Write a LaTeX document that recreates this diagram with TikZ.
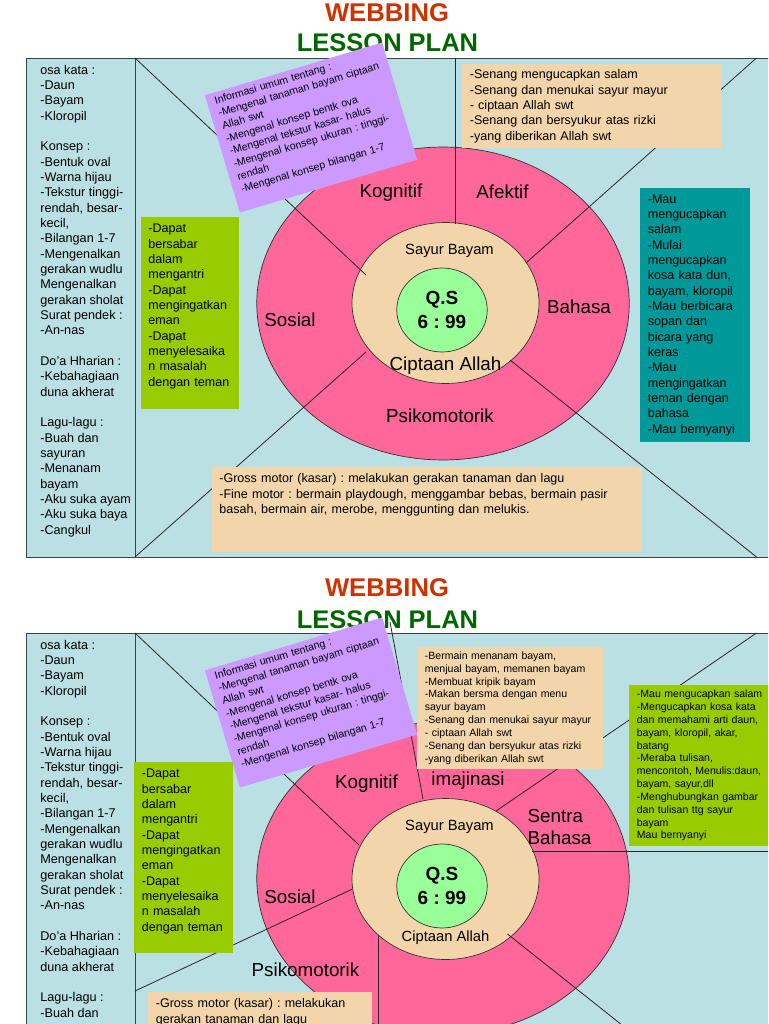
\documentclass[tikz,border=0pt]{standalone}
\usepackage{fontspec}
\setmainfont{Liberation Sans}
\frenchspacing
\usetikzlibrary{shapes.geometric}

\definecolor{panelblue}{HTML}{BBE0E3}
\definecolor{petalpink}{HTML}{FF6699}
\definecolor{peach}{HTML}{F2D5AA}
\definecolor{mint}{HTML}{99FF99}
\definecolor{lime}{HTML}{99CC00}
\definecolor{tealbox}{HTML}{009999}
\definecolor{lilac}{HTML}{CC99FF}
\definecolor{titlered}{HTML}{CC3300}
\definecolor{titlegreen}{HTML}{006600}
\definecolor{edgegray}{HTML}{3A4448}

\begin{document}
\begin{tikzpicture}[
    x=0.02cm, y=-0.02cm,
    panel/.style={draw=edgegray, line width=0.45pt, fill=panelblue},
    spoke/.style={draw=black!85, line width=0.45pt},
    redtitle/.style={font=\fontsize{14.6}{16}\selectfont\bfseries, text=titlered, inner sep=0pt},
    greentitle/.style={font=\fontsize{14.5}{16}\selectfont\bfseries, text=titlegreen, inner sep=0pt},
    outerring/.style={ellipse, draw=black!80, line width=0.4pt, fill=petalpink, inner sep=0pt, minimum width=7.45cm, minimum height=6.26cm},
    innerring/.style={ellipse, draw=black!80, line width=0.4pt, fill=peach, inner sep=0pt, minimum width=3.74cm, minimum height=3.22cm},
    centerring/.style={ellipse, draw=black!80, line width=0.4pt, fill=mint, inner sep=0pt, minimum width=1.81cm, minimum height=1.68cm,
        align=center, font=\fontsize{10.8}{13.7}\selectfont\bfseries},
    biglabel/.style={font=\fontsize{10.7}{12.6}\selectfont, inner sep=0pt, align=left},
    midlabel/.style={font=\fontsize{8.4}{10}\selectfont, inner sep=0pt},
    sidetext/.style={font=\fontsize{7.2}{8.73}\selectfont, inner sep=0pt, anchor=north west, align=left},
    notebox/.style={rectangle, anchor=north west, inner xsep=0.15cm, inner ysep=0pt, align=left, font=\fontsize{7.14}{8.73}\selectfont},
    tinybox/.style={notebox, font=\fontsize{6}{7.3}\selectfont},
    topbox/.style={text height=6pt},
    lilacbox/.style={rectangle, fill=lilac, rotate=16.6, inner xsep=0.16cm, inner ysep=0.06cm, align=left, text width=3.38cm,
        minimum width=3.7cm, font=\fontsize{6}{7.5}\selectfont, text height=5pt, text depth=2.15cm}
]

    \useasboundingbox (0,0) rectangle (768,1024);
    \clip (0,0) rectangle (768,1024);

    % first sheet
    \node[redtitle] (title1) at (387,13) {WEBBING};
    \node[greentitle] (plan1) at (387.5,43) {LESSON PLAN};
    \draw[panel] (26,58) rectangle (790,557);
    \draw[panel] (135,58) -- (135,557);

    \node[outerring] (outer1) at (443,303.5) {};
    \node[innerring] (inner1) at (445.5,303) {};

    \coordinate (tl1) at (135,58);
    \coordinate (tm1) at (455,58);
    \coordinate (tr1) at (756.5,58);
    \coordinate (bl1) at (135,557);
    \coordinate (br1) at (756.5,557);
    \coordinate (endtl1) at (366,275);
    \coordinate (endtm1) at (455,224);
    \coordinate (endtr1) at (526,263);
    \coordinate (endbl1) at (366,352);
    \coordinate (endbr1) at (510,360);

    \path[spoke] (tl1) -- (endtl1);
    \path[spoke] (tm1) -- (endtm1);
    \path[spoke] (tr1) -- (endtr1);
    \path[spoke] (bl1) -- (endbl1);
    \path[spoke] (br1) -- (endbr1);

    \node[centerring] (qs1) at (442,310) {Q.S\\6 : 99};

    \node[biglabel] (kognitif1) at (391,193) {Kognitif};
    \node[biglabel] (afektif1) at (502.5,192) {Afektif};
    \node[biglabel] (bahasa1) at (579,307) {Bahasa};
    \node[biglabel] (sosial1) at (290,320) {Sosial};
    \node[biglabel] (psiko1) at (440,416) {Psikomotorik};
    \node[biglabel] (ciptaan1) at (445.5,365.5) {Ciptaan Allah};
    \node[midlabel] (sayur1) at (449.5,251) {Sayur Bayam};

    \node[sidetext] (kata1) at (40,64.5) {osa kata :\\-Daun\\-Bayam\\-Kloropil\\~\\Konsep :\\-Bentuk oval\\-Warna hijau\\-Tekstur tinggi-\\rendah, besar-\\kecil,\\-Bilangan 1-7\\-Mengenalkan\\gerakan wudlu\\Mengenalkan\\gerakan sholat\\Surat pendek :\\-An-nas\\~\\Do'a Hharian :\\-Kebahagiaan\\duna akherat\\~\\Lagu-lagu :\\-Buah dan\\sayuran\\-Menanam\\bayam\\-Aku suka ayam\\-Aku suka baya\\-Cangkul};

    \node[lilacbox] (info1) at (311,127.5) {Informasi umum tentang :\\-Mengenal tanaman bayam ciptaan\\Allah swt\\-Mengenal konsep bentk ova\\-Mengenal tekstur kasar- halus\\-Mengenal konsep ukuran : tinggi-\\rendah\\-Mengenal konsep bilangan 1-7};

    \node[notebox, fill=peach, text width=4.87cm, minimum height=1.68cm] (afektifbox1) at (462,64) {-Senang mengucapkan salam\\-Senang dan menukai sayur mayur\\- ciptaan Allah swt\\-Senang dan bersyukur atas rizki\\-yang diberikan Allah swt};
    \node[notebox, fill=tealbox, text width=1.9cm, minimum height=5.07cm] (bahasabox1) at (640,188) {-Mau\\mengucapkan\\salam\\-Mulai\\mengucapkan\\kosa kata dun,\\bayam, kloropil\\-Mau berbicara\\sopan dan\\bicara yang\\keras\\-Mau\\mengingatkan\\teman dengan\\bahasa\\-Mau bernyanyi};
    \node[notebox, topbox, fill=lime, inner ysep=0.1cm, text width=1.67cm, text depth=3.43cm] (sosialbox1) at (140.5,217) {-Dapat\\bersabar\\dalam\\mengantri\\-Dapat\\mengingatkan\\eman\\-Dapat\\menyelesaika\\n masalah\\dengan teman};
    \node[notebox, topbox, fill=peach, inner ysep=0.1cm, text width=8.3cm, text depth=1.29cm] (psikobox1) at (211.5,467) {-Gross motor (kasar) : melakukan gerakan tanaman dan lagu\\-Fine motor : bermain playdough, menggambar bebas, bermain pasir\\basah, bermain air, merobe, menggunting dan melukis.};

    % second sheet
    \node[redtitle] (title2) at (387,588) {WEBBING};
    \node[greentitle] (plan2) at (387.5,620) {LESSON PLAN};
    \draw[panel] (26,633) rectangle (790,1060);
    \draw[panel] (135,633) -- (135,1060);

    \node[outerring] (outer2) at (443,878.5) {};
    \node[innerring] (inner2) at (445.5,879) {};

    \coordinate (tl2) at (135,633);
    \coordinate (tm2) at (390,622);
    \coordinate (tr2) at (756.5,633);
    \coordinate (rt2) at (790,851);
    \coordinate (lf2) at (135,991);
    \coordinate (bm2) at (378,1040);
    \coordinate (br2) at (756.5,1132);
    \coordinate (endtl2) at (359,845);
    \coordinate (endtm2) at (423,799);
    \coordinate (endtr2) at (496,811);
    \coordinate (endrt2) at (532,851);
    \coordinate (endlf2) at (352.5,889);
    \coordinate (endbm2) at (378,935);
    \coordinate (endbr2) at (507.5,934);

    \path[spoke] (tl2) -- (endtl2);
    \path[spoke] (tm2) -- (endtm2);
    \path[spoke] (tr2) -- (endtr2);
    \path[spoke] (rt2) -- (endrt2);
    \path[spoke] (lf2) -- (endlf2);
    \path[spoke] (bm2) -- (endbm2);
    \path[spoke] (br2) -- (endbr2);

    \node[centerring] (qs2) at (442,886) {Q.S\\6 : 99};

    \node[biglabel] (kognitif2) at (366.5,784) {Kognitif};
    \node[biglabel] (imajinasi2) at (468,781) {imajinasi};
    \node[biglabel] (sentra2) at (559.5,827) {Sentra\\Bahasa};
    \node[biglabel] (sosial2) at (290,896.5) {Sosial};
    \node[biglabel] (psiko2) at (305.5,970) {Psikomotorik};
    \node[midlabel] (sayur2) at (449.5,827) {Sayur Bayam};
    \node[midlabel] (ciptaan2) at (445.5,937.5) {Ciptaan Allah};

    \node[sidetext] (kata2) at (40,639.5) {osa kata :\\-Daun\\-Bayam\\-Kloropil\\~\\Konsep :\\-Bentuk oval\\-Warna hijau\\-Tekstur tinggi-\\rendah, besar-\\kecil,\\-Bilangan 1-7\\-Mengenalkan\\gerakan wudlu\\Mengenalkan\\gerakan sholat\\Surat pendek :\\-An-nas\\~\\Do'a Hharian :\\-Kebahagiaan\\duna akherat\\~\\Lagu-lagu :\\-Buah dan};

    \node[lilacbox] (info2) at (311,702.5) {Informasi umum tentang :\\-Mengenal tanaman bayam ciptaan\\Allah swt\\-Mengenal konsep bentk ova\\-Mengenal tekstur kasar- halus\\-Mengenal konsep ukuran : tinggi-\\rendah\\-Mengenal konsep bilangan 1-7};

    \node[tinybox, fill=peach, text width=3.41cm, minimum height=2.45cm] (sentrabox2) at (417,646.5) {-Bermain menanam bayam,\\menjual bayam, memanen bayam\\-Membuat kripik bayam\\-Makan bersma dengan menu\\sayur bayam\\-Senang dan menukai sayur mayur\\- ciptaan Allah swt\\-Senang dan bersyukur atas rizki\\-yang diberikan Allah swt};
    \node[tinybox, fill=lime, text width=3.2cm, minimum height=3.21cm] (bahasabox2) at (629,685) {-Mau mengucapkan salam\\-Mengucapkan kosa kata\\dan memahami arti daun,\\bayam, kloropil, akar,\\batang\\-Meraba tulisan,\\mencontoh, Menulis:daun,\\bayam, sayur,dll\\-Menghubungkan gambar\\dan tulisan ttg sayur\\bayam\\Mau bernyanyi};
    \node[notebox, topbox, fill=lime, inner ysep=0.1cm, text width=1.67cm, text depth=3.41cm] (sosialbox2) at (134,762) {-Dapat\\bersabar\\dalam\\mengantri\\-Dapat\\mengingatkan\\eman\\-Dapat\\menyelesaika\\n masalah\\dengan teman};
    \node[notebox, topbox, fill=peach, inner ysep=0.1cm, text width=4.17cm, text depth=1.5cm] (psikobox2) at (148,992) {-Gross motor (kasar) : melakukan\\gerakan tanaman dan lagu};

\end{tikzpicture}
\end{document}
